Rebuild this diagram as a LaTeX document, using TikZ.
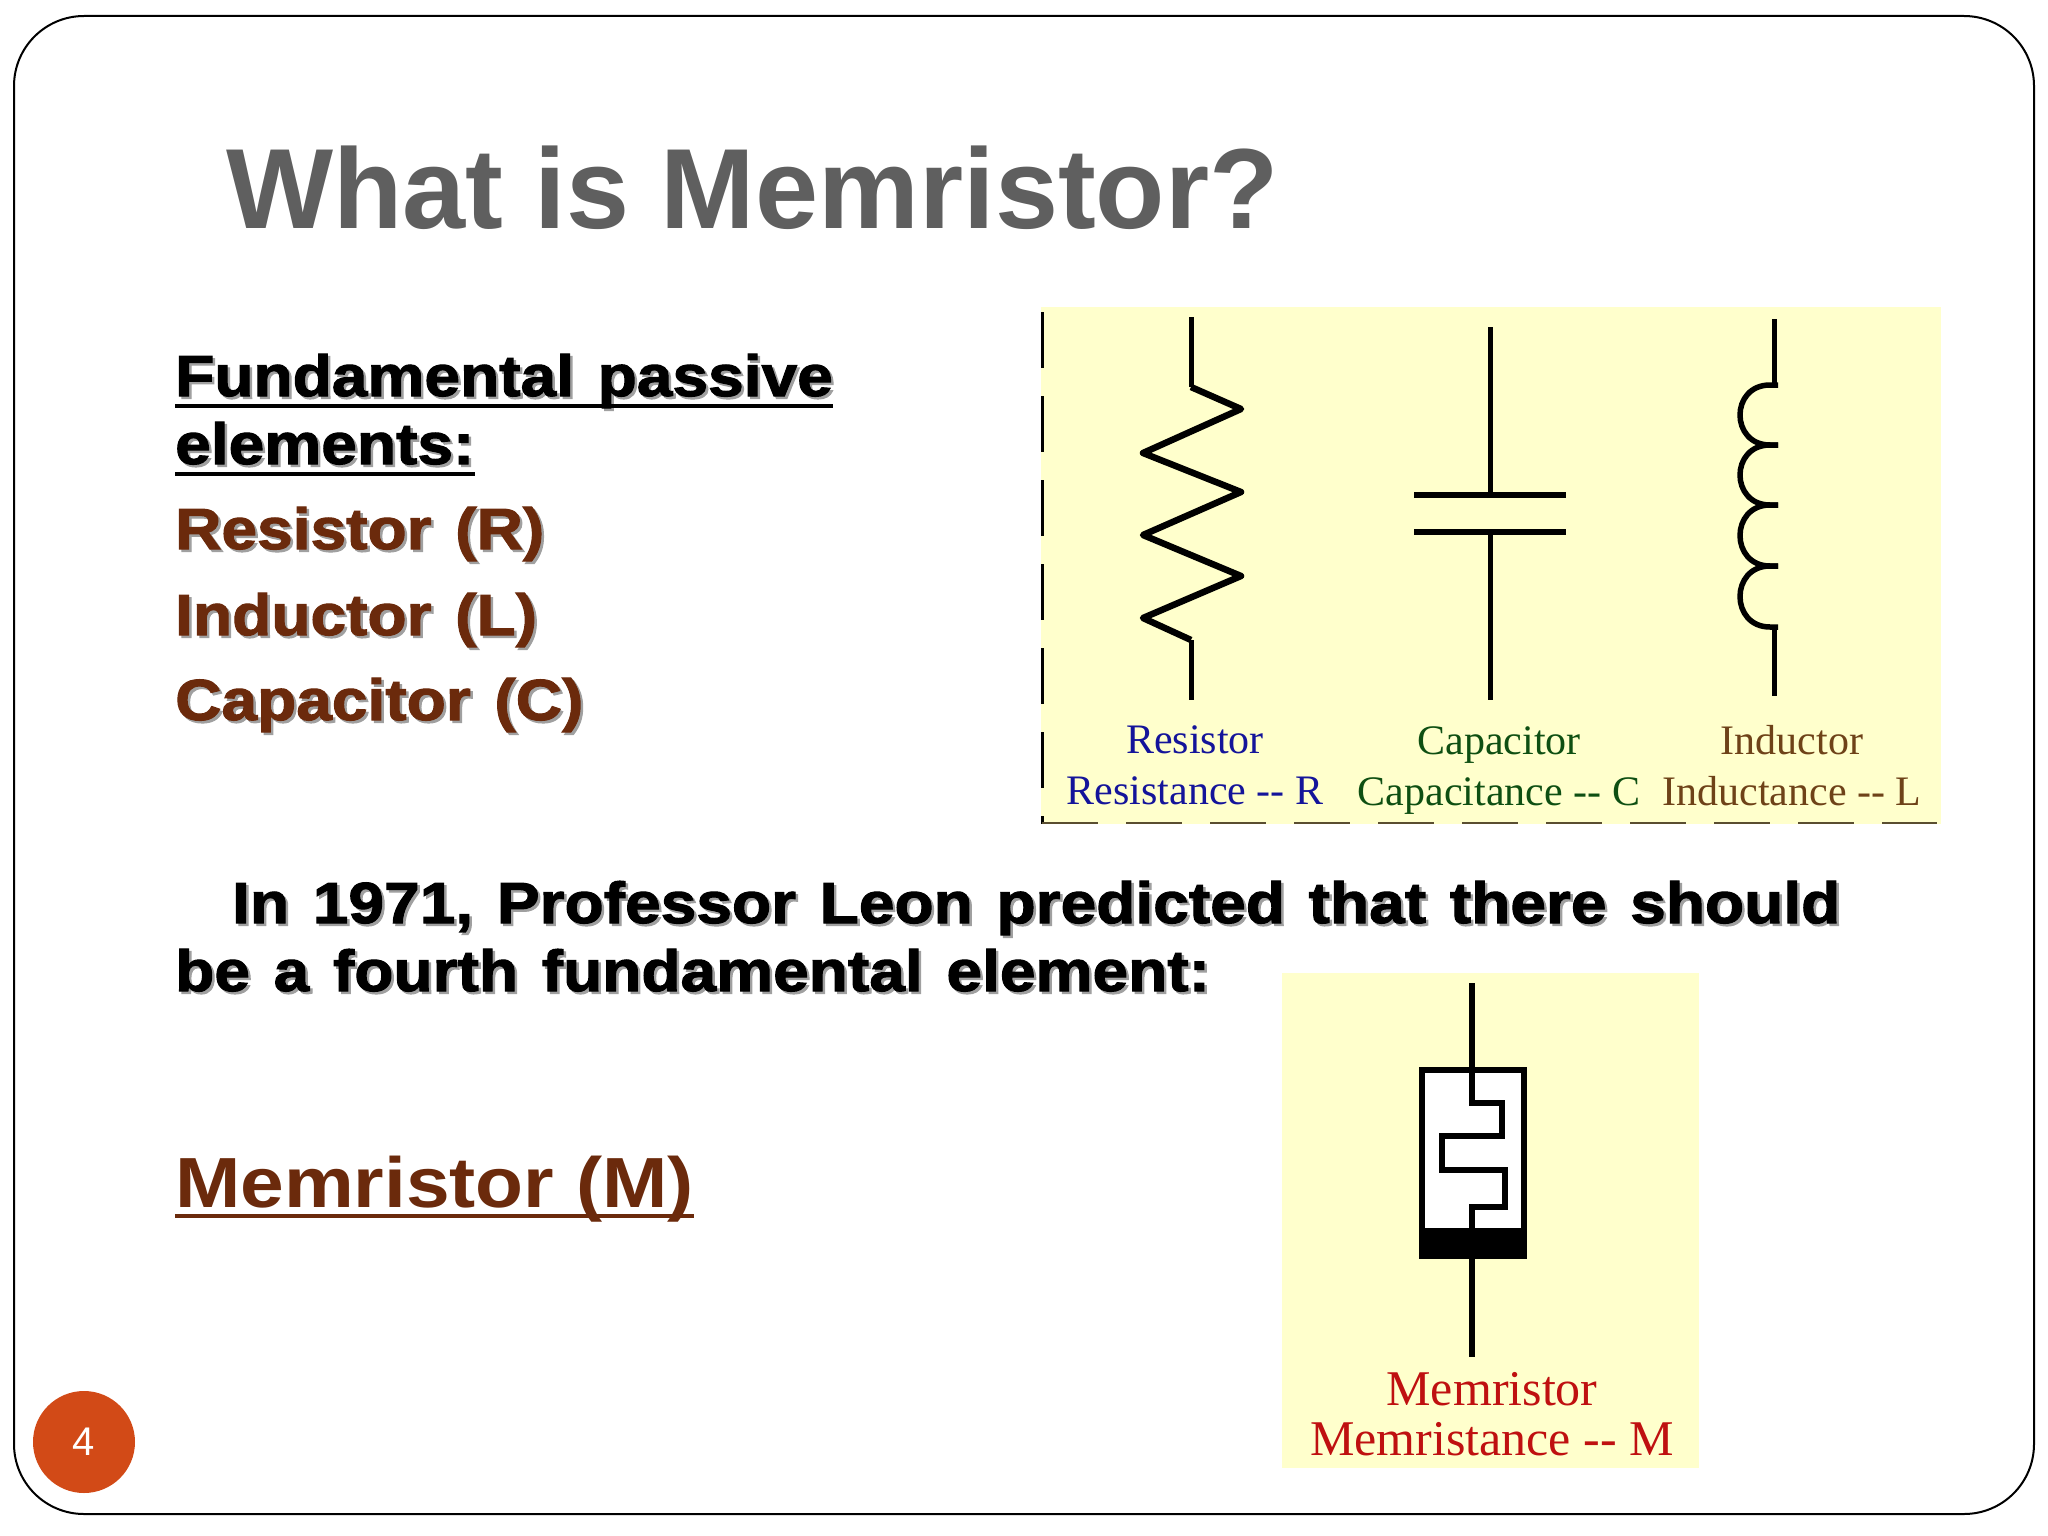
\documentclass[tikz,border=0pt]{standalone}
\usepackage{fontspec}
\setmainfont{Liberation Serif}
\newfontfamily\slidefont{Liberation Sans}
\newfontfamily\titlefont[FakeStretch=0.995]{Liberation Sans Bold}
\newfontfamily\memfont[FakeStretch=1.105]{Liberation Sans Bold}
\newfontfamily\heavyfont[FakeBold=1.8,FakeStretch=1.105,WordSpace=1.33]{Liberation Sans Bold}
\newfontfamily\labelfont{Liberation Serif}
\definecolor{panelyellow}{HTML}{FFFFCC}
\definecolor{titlegray}{HTML}{5F5F5F}
\definecolor{bodybrown}{HTML}{6B2A0C}
\definecolor{badgeorange}{HTML}{D24A17}
\definecolor{softgray}{HTML}{A0A0A0}
\definecolor{dashbrown}{HTML}{5A4E30}
\definecolor{resblue}{HTML}{14149A}
\definecolor{capgreen}{HTML}{0E4F12}
\definecolor{indbrown}{HTML}{6E4218}
\definecolor{memred}{HTML}{BF1010}
\newcommand{\softshadow}[1]{\rlap{\kern2.5pt\raisebox{-2.5pt}{\textcolor{softgray}{#1}}}#1}
\tikzset{
  bodytext/.style={anchor=base west, inner sep=0pt, font=\heavyfont\fontsize{58}{58}\selectfont},
  panellabel/.style={align=center, inner sep=0pt, font=\labelfont\fontsize{42}{51}\selectfont},
  wire/.style={line width=5pt, line join=miter},
  zigwire/.style={line width=6.5pt, line join=round},
  underrule/.style={line width=3.5pt}
}
\begin{document}
\begin{tikzpicture}[x=1pt, y=-1pt]
    \useasboundingbox (0,0) rectangle (2048,1536);
    \draw[line width=2pt, rounded corners=70pt] (14,16) rectangle (2034,1514);
    % title and slide number
    \node[anchor=base west, inner sep=0pt, text=titlegray, font=\titlefont\fontsize{114}{114}\selectfont] (title) at (226,228) {What is Memristor?};
    \node[circle, fill=badgeorange, minimum size=102pt, inner sep=0pt, text=white, font=\slidefont\fontsize{40}{40}\selectfont] (badge) at (84,1442) {4};
    % left column
    \node[bodytext] (fund) at (175,396) {\softshadow{Fundamental passive}};
    \node[bodytext] (elem) at (175,464) {\softshadow{elements:}};
    \node[bodytext, text=bodybrown] (res) at (175,549) {\softshadow{Resistor (R)}};
    \node[bodytext, text=bodybrown] (ind) at (175,635) {\softshadow{Inductor (L)}};
    \node[bodytext, text=bodybrown] (cap) at (175,720) {\softshadow{Capacitor (C)}};
    \draw[underrule] ([yshift=-10pt]fund.base west) -- ([yshift=-10pt]fund.base east);
    \draw[underrule] ([yshift=-10pt]elem.base west) -- ([yshift=-10pt]elem.base east);
    \node[bodytext] (pred) at (232,923) {\softshadow{In 1971, Professor Leon predicted that there should}};
    \node[bodytext] (fourth) at (175,991) {\softshadow{be a fourth fundamental element:}};
    \node[anchor=base west, inner sep=0pt, text=bodybrown, font=\memfont\fontsize{71}{71}\selectfont] (mem) at (175,1207) {Memristor (M)};
    \draw[underrule, bodybrown] ([yshift=-9pt]mem.base west) -- ([yshift=-9pt]mem.base east);
    % upper panel
    \fill[panelyellow] (1041,307) rectangle (1941,824);
    \draw[line width=3pt, dash pattern=on 56pt off 28pt] (1042,312) -- (1042,824);
    \draw[line width=2pt, dashbrown, dash pattern=on 56pt off 28pt] (1042,823) -- (1937,823);
    \draw[wire] (1191,317) -- (1191,387);
    \draw[zigwire] (1191,387) -- (1241,409) -- (1143,453) -- (1241,492) -- (1143,535) -- (1241,576) -- (1143,618) -- (1191,640);
    \draw[wire] (1191,640) -- (1191,700);
    \draw[wire] (1490,327) -- (1490,495);
    \draw[wire] (1490,532) -- (1490,700);
    \draw[line width=5.5pt] (1414,495) -- (1566,495);
    \draw[line width=5.5pt] (1414,532) -- (1566,532);
    \draw[wire] (1774,319) -- (1774,385);
    \foreach \ytop/\ybot in {385/445, 445/505, 505/566, 566/627}
        \draw[line width=5.5pt] (1778,\ytop) -- (1770,\ytop) .. controls (1730,\ytop) and (1730,\ybot) .. (1770,\ybot) -- (1778,\ybot);
    \draw[wire] (1774,627) -- (1774,696);
    \node[panellabel, text=resblue] (rlabel) at (1195,765.5) {Resistor\\Resistance -- R};
    \node[panellabel, text=capgreen] (clabel) at (1499,771) {Capacitor\\Capacitance -- C};
    \node[panellabel, text=indbrown] (llabel) at (1792,765.5) {Inductor\\Inductance -- L};
    % lower panel
    \fill[panelyellow] (1282,973) rectangle (1699,1468);
    \draw[fill=white, line width=6pt] (1422,1070) rectangle (1524,1256);
    \fill (1419,1228) rectangle (1527,1258);
    \draw[wire, line width=6pt] (1472,983) -- (1472,1103) -- (1502,1103) -- (1502,1136) -- (1442,1136) -- (1442,1170) -- (1505,1170) -- (1505,1207) -- (1472,1207) -- (1472,1228);
    \draw[wire, line width=6pt] (1472,1256) -- (1472,1357);
    \node[align=center, inner sep=0pt, text=memred, font=\labelfont\fontsize{50}{50}\selectfont] (mlabel) at (1492,1414.5) {Memristor\\Memristance -- M};
\end{tikzpicture}
\end{document}
